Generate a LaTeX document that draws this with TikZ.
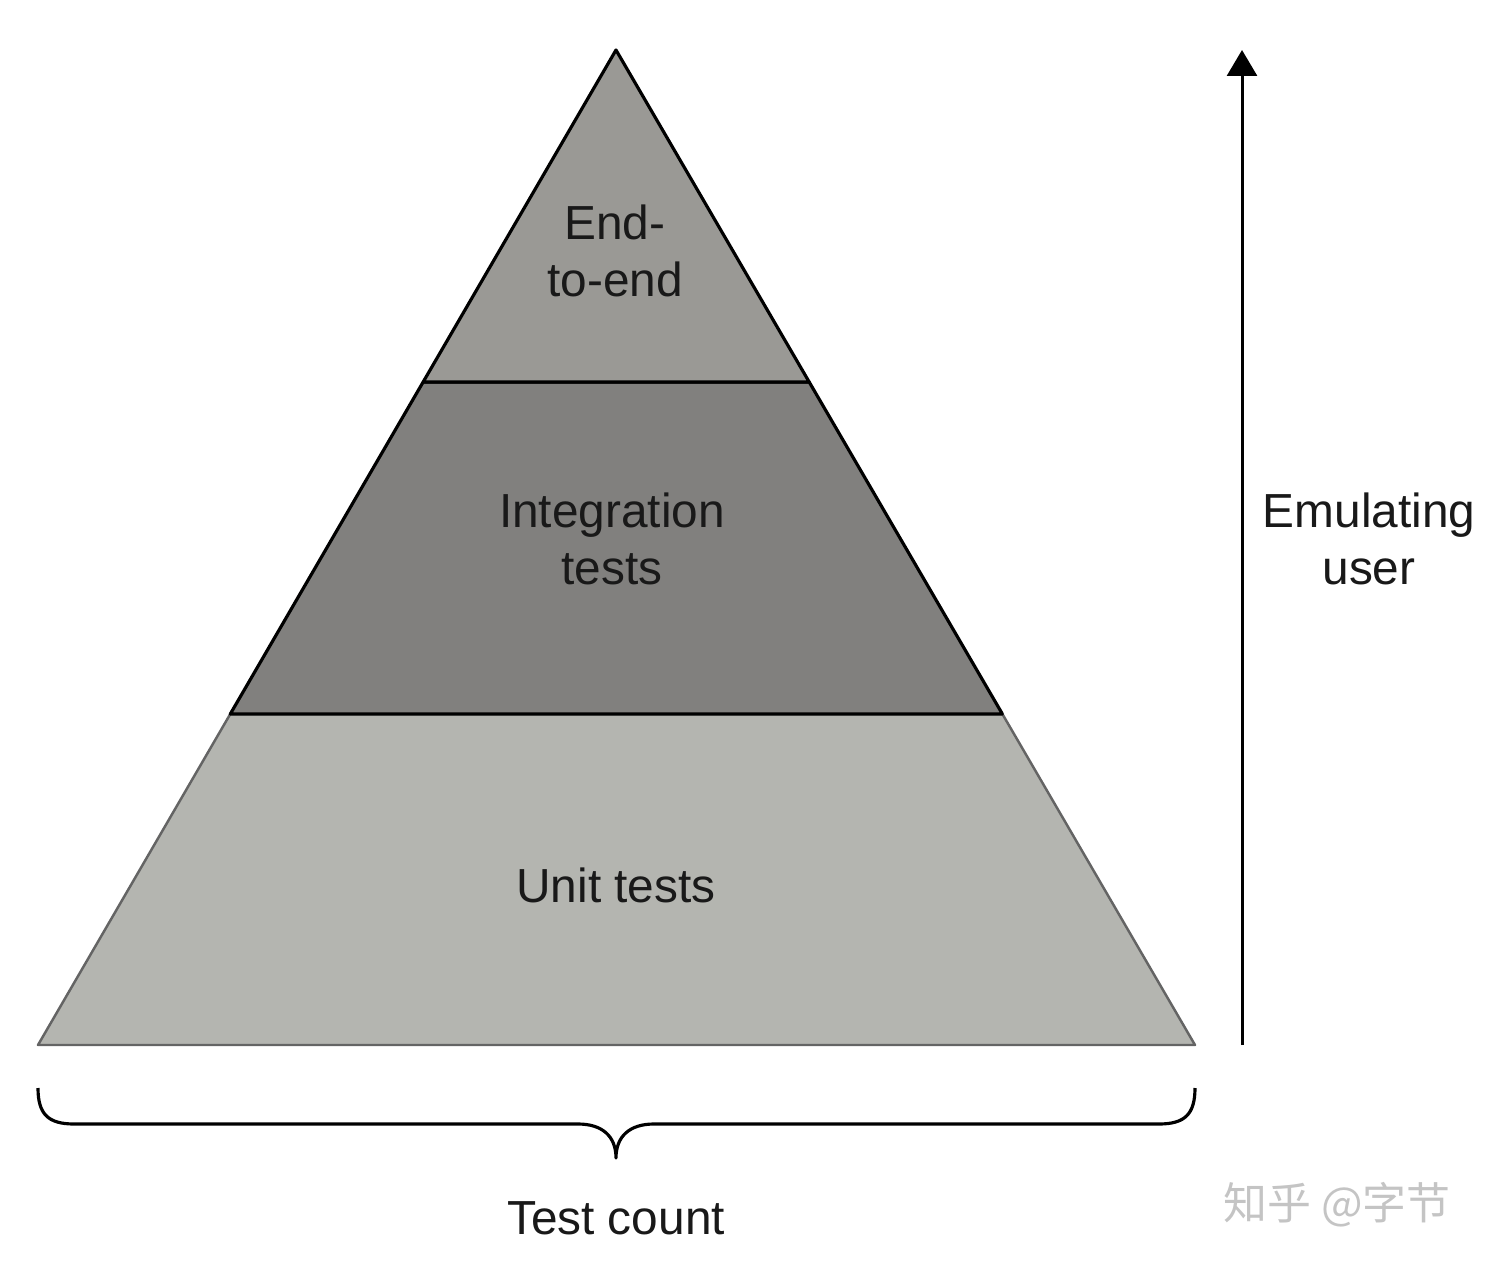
\documentclass[tikz,border=0pt]{standalone}
\usepackage{fontspec}
\setmainfont{Liberation Sans}
\newfontfamily\cjk{Noto Sans CJK SC}
\usetikzlibrary{arrows.meta, positioning, calc}

\definecolor{topgray}{HTML}{9A9995}
\definecolor{midgray}{HTML}{81807E}
\definecolor{basegray}{HTML}{B4B5B0}
\definecolor{baseedge}{HTML}{646464}
\definecolor{markgray}{HTML}{C4C4C4}

\begin{document}
\begin{tikzpicture}[
    tier/.style={draw=black, line width=0.9pt, line join=round},
    label/.style={align=center, font=\fontsize{13.6}{16.2}\selectfont, text=black!90},
    arrow/.style={-{Triangle[width=0.3cm, length=0.26cm]}, line width=0.85pt}
]
    \useasboundingbox (0,0) rectangle (14.92,12.66);

    % Pyramid corners
    \coordinate (apex) at (6.16,12.16);
    \coordinate (bl) at (0.38,2.21);
    \coordinate (br) at (11.95,2.21);
    \coordinate (ul) at ($(apex)!0.3337!(bl)$);
    \coordinate (ur) at ($(apex)!0.3337!(br)$);
    \coordinate (ll) at ($(apex)!0.6673!(bl)$);
    \coordinate (lr) at ($(apex)!0.6673!(br)$);

    % Unit tests layer
    \filldraw[tier, fill=basegray, draw=baseedge, line width=0.7pt] (ll) -- (bl) -- (br) -- (lr) -- cycle;

    % Integration layer
    \filldraw[tier, fill=midgray] (ul) -- (ll) -- (lr) -- (ur) -- cycle;

    % End-to-end layer
    \filldraw[tier, fill=topgray] (apex) -- (ul) -- (ur) -- cycle;

    % Layer labels
    \node[label] (e2e) at (6.15,10.15) {End-\\to-end};
    \node[label] (integ) at (6.12,7.27) {Integration\\tests};
    \node[label] (unit) at (6.16,3.81) {Unit tests};

    % Emulating user axis
    \coordinate (axisfoot) at (12.42,2.21);
    \coordinate (axistop) at (12.42,12.16);
    \draw[arrow] (axisfoot) -- (axistop);
    \node[label] (emul) at (13.69,7.27) {Emulating\\user};

    % Test count brace
    \coordinate (bracel) at (0.38,1.78);
    \coordinate (bracer) at (11.95,1.78);
    \coordinate (bracetip) at (6.16,1.08);
    \draw[line width=0.9pt, line join=round]
        (bracel) .. controls (0.38,1.52) and (0.48,1.42) .. (0.74,1.42)
        -- (5.78,1.42) .. controls (6.02,1.42) and (6.16,1.30) .. (bracetip)
        .. controls (6.16,1.30) and (6.30,1.42) .. (6.54,1.42)
        -- (11.59,1.42) .. controls (11.85,1.42) and (11.95,1.52) .. (bracer);
    \node[label] (count) at (6.16,0.48) {Test count};

    % Watermark
    \node[text=markgray, font=\cjk\fontsize{12.5}{14}\selectfont] (mark) at (13.37,0.61) {知乎 @字节};
\end{tikzpicture}
\end{document}
